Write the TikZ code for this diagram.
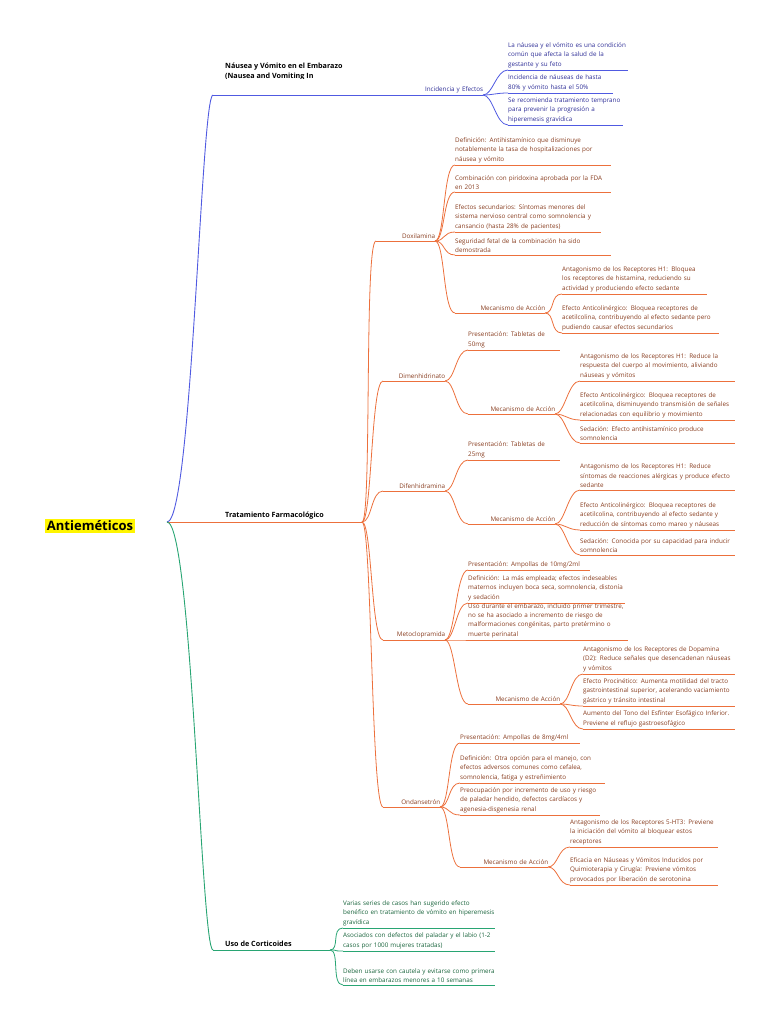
\documentclass[tikz,border=0pt]{standalone}
\usepackage{fontspec}
\setmainfont{Open Sans}
\definecolor{cb}{RGB}{80,90,225}
\definecolor{co}{RGB}{236,112,60}
\definecolor{cg}{RGB}{40,165,115}
\definecolor{tb}{RGB}{45,45,150}
\definecolor{to}{RGB}{135,60,30}
\definecolor{tg}{RGB}{25,100,60}
\definecolor{hl}{RGB}{255,245,0}
\newcommand\leaf[7]{%
  \pgfmathsetmacro\lw{#4-#3}%
  \node[anchor=south west, inner xsep=0pt, inner ysep=2pt, text width=\lw pt, align=left,
        font=\fontsize{6.3}{9.4}\selectfont, text=#7] (#1) at (#3,#5) {#6};
  \coordinate (#1s) at (#3,#5); \coordinate (#1e) at (#4,#5);
  \draw[#2, line width=0.8pt] (#1s) -- (#1e);}
\newcommand\conn[3]{\draw[#1, line width=0.8pt] (#2e) .. controls +(10,0) and +(-12,0) .. (#3s);}
\begin{document}
\begin{tikzpicture}[x=1pt,y=-1pt]
\hyphenpenalty=10000 \exhyphenpenalty=10000
\useasboundingbox (0,0) rectangle (768,1024);
% root
\node[fill=hl, inner sep=1.5pt, font=\bfseries\fontsize{13}{15}\selectfont] (root) at (90,526) {Antiem\'eticos};
\coordinate (roote) at (167,522);
% branch 1
\coordinate (b1s) at (213,95); \coordinate (b1e) at (345,95);
\draw[cb, line width=0.9pt] (b1s) -- (b1e);
\begin{scope}
\clip (220,55) rectangle (400,78.5);
\node[anchor=north west, inner sep=0pt, align=left, font=\bfseries\fontsize{7.2}{10.5}\selectfont] (b1) at (225,62.5) {N\'ausea y V\'omito en el Embarazo\\(Nausea and Vomiting In};
\end{scope}
\draw[cb, line width=0.9pt] (roote) .. controls +(25,0) and +(-12,0) .. (b1s);
\leaf{inc}{cb}{345}{483}{95}{\hfill Incidencia y Efectos}{tb}
\leaf{i1}{cb}{508}{628}{70}{La n\'ausea y el v\'omito es una condici\'on com\'un que afecta la salud de la gestante y su feto}{tb}
\leaf{i2}{cb}{508}{613}{93}{Incidencia de n\'auseas de hasta 80\% y v\'omito hasta el 50\%}{tb}
\leaf{i3}{cb}{508}{623}{125}{Se recomienda tratamiento temprano para prevenir la progresi\'on a hiperemesis grav\'idica}{tb}
\conn{cb}{inc}{i1}\conn{cb}{inc}{i2}\conn{cb}{inc}{i3}
% branch 2
\coordinate (b2s) at (167,522);
\node[anchor=south west, inner xsep=0pt, inner ysep=3pt, font=\bfseries\fontsize{7.2}{9}\selectfont] (b2) at (225,522) {Tratamiento Farmacol\'ogico};
\coordinate (b2e) at (362,522);
\draw[co, line width=0.9pt] (b2s) -- (b2e);
% Doxilamina
\leaf{dox}{co}{376}{435}{241}{\hfill Doxilamina}{to}
\leaf{d1}{co}{455}{611}{165}{Definici\'on: Antihistam\'inico que disminuye notablemente la tasa de hospitalizaciones por n\'ausea y v\'omito}{to}
\leaf{d2}{co}{455}{611}{192}{Combinaci\'on con piridoxina aprobada por la FDA en 2013}{to}
\leaf{d3}{co}{455}{601}{232}{Efectos secundarios: S\'intomas menores del sistema nervioso central como somnolencia y cansancio (hasta 28\% de pacientes)}{to}
\leaf{d4}{co}{455}{611}{255}{Seguridad fetal de la combinaci\'on ha sido demostrada}{to}
\leaf{d5}{co}{455}{545}{313}{\hfill Mecanismo de Acci\'on}{to}
\leaf{d51}{co}{562}{707}{294}{Antagonismo de los Receptores H1: Bloquea los receptores de histamina, reduciendo su actividad y produciendo efecto sedante}{to}
\leaf{d52}{co}{562}{719}{333}{Efecto Anticolin\'ergico: Bloquea receptores de acetilcolina, contribuyendo al efecto sedante pero pudiendo causar efectos secundarios}{to}
\conn{co}{b2}{dox}\conn{co}{dox}{d1}\conn{co}{dox}{d2}\conn{co}{dox}{d3}\conn{co}{dox}{d4}\conn{co}{dox}{d5}
\conn{co}{d5}{d51}\conn{co}{d5}{d52}
% Dimenhidrinato
\leaf{dim}{co}{383}{445}{381}{\hfill Dimenhidrinato}{to}
\leaf{m1}{co}{468}{560}{350}{Presentaci\'on: Tabletas de 50mg}{to}
\leaf{m2}{co}{468}{555}{414}{\hfill Mecanismo de Acci\'on}{to}
\leaf{m21}{co}{580}{735}{381}{Antagonismo de los Receptores H1: Reduce la respuesta del cuerpo al movimiento, aliviando n\'auseas y v\'omitos}{to}
\leaf{m22}{co}{580}{735}{420}{Efecto Anticolin\'ergico: Bloquea receptores de acetilcolina, disminuyendo transmisi\'on de se\~nales relacionadas con equilibrio y movimiento}{to}
\leaf{m23}{co}{580}{735}{443}{Sedaci\'on: Efecto antihistam\'inico produce somnolencia}{to}
\conn{co}{b2}{dim}\conn{co}{dim}{m1}\conn{co}{dim}{m2}\conn{co}{m2}{m21}\conn{co}{m2}{m22}\conn{co}{m2}{m23}
% Difenhidramina
\leaf{dif}{co}{383}{445}{491}{\hfill Difenhidramina}{to}
\leaf{f1}{co}{468}{560}{460}{Presentaci\'on: Tabletas de 25mg}{to}
\leaf{f2}{co}{468}{555}{524}{\hfill Mecanismo de Acci\'on}{to}
\leaf{f21}{co}{580}{735}{490}{Antagonismo de los Receptores H1: Reduce s\'intomas de reacciones al\'ergicas y produce efecto sedante}{to}
\leaf{f22}{co}{580}{735}{530}{Efecto Anticolin\'ergico: Bloquea receptores de acetilcolina, contribuyendo al efecto sedante y reducci\'on de s\'intomas como mareo y n\'auseas}{to}
\leaf{f23}{co}{580}{735}{555}{Sedaci\'on: Conocida por su capacidad para inducir somnolencia}{to}
\conn{co}{b2}{dif}\conn{co}{dif}{f1}\conn{co}{dif}{f2}\conn{co}{f2}{f21}\conn{co}{f2}{f22}\conn{co}{f2}{f23}
% Metoclopramida
\leaf{met}{co}{383}{445}{640}{\hfill Metoclopramida}{to}
\leaf{t1}{co}{468}{590}{570}{Presentaci\'on: Ampollas de 10mg/2ml}{to}
\leaf{t2}{co}{468}{625}{603}{Definici\'on: La m\'as empleada; efectos indeseables maternos incluyen boca seca, somnolencia, diston\'ia y sedaci\'on}{to}
\leaf{t3}{co}{468}{628}{640}{Uso durante el embarazo, incluido primer trimestre, no se ha asociado a incremento de riesgo de malformaciones cong\'enitas, parto pret\'ermino o muerte perinatal}{to}
\leaf{t4}{co}{468}{560}{704}{\hfill Mecanismo de Acci\'on}{to}
\leaf{t41}{co}{583}{735}{674}{Antagonismo de los Receptores de Dopamina (D2): Reduce se\~nales que desencadenan n\'auseas y v\'omitos}{to}
\leaf{t42}{co}{583}{735}{706}{Efecto Procin\'etico: Aumenta motilidad del tracto gastrointestinal superior, acelerando vaciamiento g\'astrico y tr\'ansito intestinal}{to}
\leaf{t43}{co}{583}{735}{729}{Aumento del Tono del Esf\'inter Esof\'agico Inferior. Previene el reflujo gastroesof\'agico}{to}
\conn{co}{b2}{met}\conn{co}{met}{t1}\conn{co}{met}{t2}\conn{co}{met}{t3}\conn{co}{met}{t4}
\conn{co}{t4}{t41}\conn{co}{t4}{t42}\conn{co}{t4}{t43}
% Ondansetron
\leaf{ond}{co}{383}{440}{807}{\hfill Ondansetr\'on}{to}
\leaf{o1}{co}{460}{580}{743}{Presentaci\'on: Ampollas de 8mg/4ml}{to}
\leaf{o2}{co}{460}{605}{783}{Definici\'on: Otra opci\'on para el manejo, con efectos adversos comunes como cefalea, somnolencia, fatiga y estre\~nimiento}{to}
\leaf{o3}{co}{460}{600}{815}{Preocupaci\'on por incremento de uso y riesgo de paladar hendido, defectos card\'iacos y agenesia-disgenesia renal}{to}
\leaf{o4}{co}{460}{548}{867}{\hfill Mecanismo de Acci\'on}{to}
\leaf{o41}{co}{570}{718}{847}{Antagonismo de los Receptores 5-HT3: Previene la iniciaci\'on del v\'omito al bloquear estos receptores}{to}
\leaf{o42}{co}{570}{718}{885}{Eficacia en N\'auseas y V\'omitos Inducidos por Quimioterapia y Cirug\'ia: Previene v\'omitos provocados por liberaci\'on de serotonina}{to}
\conn{co}{b2}{ond}\conn{co}{ond}{o1}\conn{co}{ond}{o2}\conn{co}{ond}{o3}\conn{co}{ond}{o4}
\conn{co}{o4}{o41}\conn{co}{o4}{o42}
% branch 3
\coordinate (b3s) at (213,950); \coordinate (b3e) at (330,950);
\node[anchor=south west, inner xsep=0pt, inner ysep=3pt, font=\bfseries\fontsize{7.2}{9}\selectfont] (b3) at (225,950) {Uso de Corticoides};
\draw[cg, line width=0.9pt] (b3s) -- (b3e);
\draw[cg, line width=0.9pt] (roote) .. controls +(25,0) and +(-12,0) .. (b3s);
\leaf{c1}{cg}{343}{495}{928}{Varias series de casos han sugerido efecto ben\'efico en tratamiento de v\'omito en hiperemesis grav\'idica}{tg}
\leaf{c2}{cg}{343}{495}{951}{Asociados con defectos del paladar y el labio (1-2 casos por 1000 mujeres tratadas)}{tg}
\leaf{c3}{cg}{343}{495}{985}{Deben usarse con cautela y evitarse como primera l\'inea en embarazos menores a 10 semanas}{tg}
\conn{cg}{b3}{c1}\conn{cg}{b3}{c2}\conn{cg}{b3}{c3}
\end{tikzpicture}
\end{document}
